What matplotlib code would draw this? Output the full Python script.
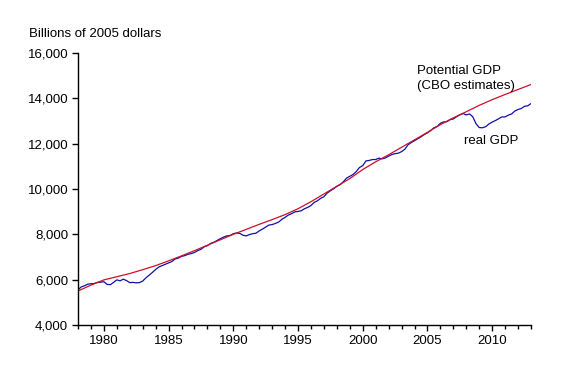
import matplotlib
matplotlib.use("Agg")
import matplotlib.pyplot as plt
from matplotlib.ticker import FuncFormatter, MultipleLocator

# Real GDP, quarterly, billions of chained 2005 dollars (1978Q1 - 2013Q1)
real_gdp = [
    5550, 5680, 5730, 5800,
    5820, 5830, 5880, 5890,
    5910, 5790, 5780, 5880,
    5990, 5950, 6020, 5960,
    5870, 5880, 5860, 5870,
    5940, 6080, 6200, 6320,
    6450, 6560, 6620, 6680,
    6740, 6800, 6910, 6950,
    7030, 7060, 7120, 7150,
    7200, 7280, 7340, 7450,
    7500, 7600, 7650, 7730,
    7810, 7880, 7930, 7950,
    8030, 8060, 8040, 7960,
    7930, 7990, 8030, 8050,
    8150, 8230, 8320, 8410,
    8430, 8480, 8540, 8660,
    8750, 8850, 8910, 8990,
    9010, 9040, 9130, 9190,
    9270, 9410, 9480, 9590,
    9660, 9820, 9920, 10010,
    10120, 10190, 10320, 10480,
    10560, 10640, 10770, 10950,
    11030, 11240, 11260, 11300,
    11300, 11360, 11330, 11370,
    11450, 11520, 11560, 11580,
    11650, 11750, 11950, 12050,
    12130, 12220, 12300, 12400,
    12480, 12580, 12700, 12760,
    12900, 12960, 12970, 13060,
    13090, 13190, 13270, 13330,
    13270, 13310, 13190, 12880,
    12710, 12700, 12750, 12870,
    12950, 13020, 13100, 13180,
    13180, 13260, 13310, 13440,
    13510, 13550, 13650, 13670,
    13770,
]
real_dates = [1978 + i / 4 for i in range(len(real_gdp))]

# Potential GDP (CBO estimates), start of each year
pot_years = list(range(1978, 2014))
pot_gdp = [
    5500, 5760, 5990, 6130, 6270, 6440, 6620, 6830, 7050, 7280,
    7520, 7760, 8000, 8220, 8440, 8650, 8870, 9130, 9440, 9780,
    10120, 10460, 10860, 11200, 11510, 11840, 12170, 12500, 12840, 13140,
    13410, 13690, 13940, 14170, 14390, 14610,
]

y_ticks = [4000, 6000, 8000, 10000, 12000, 14000, 16000]
x_ticks = [1980, 1985, 1990, 1995, 2000, 2005, 2010]

plt.rcParams['font.family'] = ['Liberation Sans', 'DejaVu Sans']

fig = plt.figure(figsize=(5.76, 3.74), dpi=100)
ax = fig.add_axes([78 / 576, 1 - 325 / 374, (531 - 78) / 576, (325 - 53) / 374])

ax.plot(real_dates, real_gdp, color='#1010a8', lw=0.9)
ax.plot(pot_years, pot_gdp, color='#cc1028', lw=0.9)

ax.set_xlim(1978, 2013)
ax.set_ylim(4000, 16000)
ax.set_yticks(y_ticks)
ax.set_xticks(x_ticks)
ax.xaxis.set_minor_locator(MultipleLocator(1))
ax.yaxis.set_major_formatter(FuncFormatter(lambda v, p: f"{int(v):,}"))

for s in ['top', 'right']:
    ax.spines[s].set_visible(False)
for s in ['left', 'bottom']:
    ax.spines[s].set_linewidth(1.0)
    ax.spines[s].set_color('black')

ax.tick_params(axis='both', which='major', direction='out', length=4.5, width=1.0,
               labelsize=9.5, pad=2.5, colors='black')
ax.tick_params(axis='x', which='minor', direction='out', length=3, width=1.0)
ax.tick_params(axis='x', which='major', pad=3)

fig.text(29 / 576, 1 - 34 / 374, "Billions of 2005 dollars", fontsize=9.5,
         ha='left', va='center')

ax.text(2004.2, 14880, "Potential GDP\n(CBO estimates)", fontsize=9.5,
        ha='left', va='center', linespacing=1.25)
ax.text(2007.85, 12120, "real GDP", fontsize=9.5, ha='left', va='center')

fig.savefig("out.png", dpi=100)
